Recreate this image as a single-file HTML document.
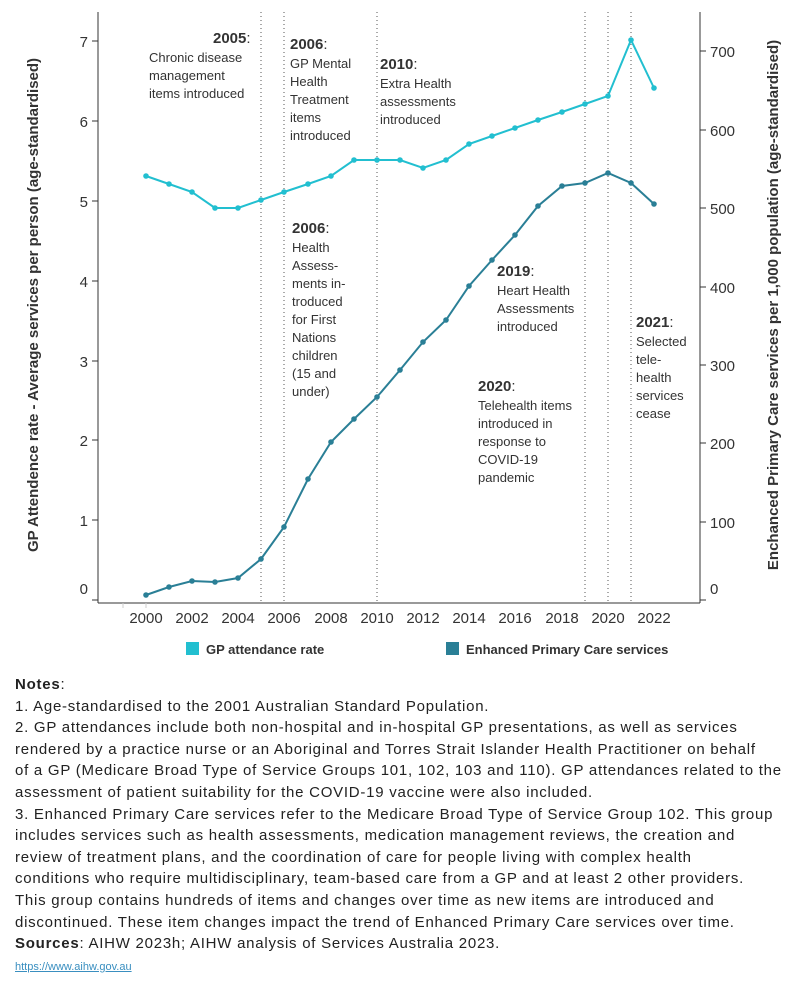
<!DOCTYPE html>
<html><head><meta charset="utf-8"><style>
body{margin:0;background:#fff;font-family:"Liberation Sans",sans-serif;}
.notes{position:absolute;left:15px;top:674px;width:790px;font-size:15px;letter-spacing:0.75px;line-height:21.6px;color:#222;white-space:nowrap;}
</style></head><body>
<div style="position:relative;width:800px;height:1000px;">
<svg width="800" height="670" style="position:absolute;left:0;top:0" font-family="Liberation Sans, sans-serif">
<line x1="98" y1="12" x2="98" y2="603" stroke="#333"/>
<line x1="700" y1="12" x2="700" y2="603" stroke="#333"/>
<line x1="98" y1="603" x2="700" y2="603" stroke="#333"/>
<g stroke="#333">
<line x1="92" y1="41" x2="98" y2="41"/><line x1="92" y1="121" x2="98" y2="121"/><line x1="92" y1="201" x2="98" y2="201"/><line x1="92" y1="281" x2="98" y2="281"/><line x1="92" y1="361" x2="98" y2="361"/><line x1="92" y1="440" x2="98" y2="440"/><line x1="92" y1="520" x2="98" y2="520"/><line x1="92" y1="600" x2="98" y2="600"/>
<line x1="700" y1="51" x2="706" y2="51"/><line x1="700" y1="130" x2="706" y2="130"/><line x1="700" y1="208" x2="706" y2="208"/><line x1="700" y1="287" x2="706" y2="287"/><line x1="700" y1="365" x2="706" y2="365"/><line x1="700" y1="443" x2="706" y2="443"/><line x1="700" y1="522" x2="706" y2="522"/><line x1="700" y1="600" x2="706" y2="600"/>
</g>
<g font-size="15" fill="#333" text-anchor="end">
<text x="88" y="47">7</text><text x="88" y="127">6</text><text x="88" y="207">5</text><text x="88" y="287">4</text><text x="88" y="367">3</text><text x="88" y="446">2</text><text x="88" y="526">1</text><text x="88" y="594">0</text>
</g>
<g font-size="15" fill="#333">
<text x="710" y="57">700</text><text x="710" y="136">600</text><text x="710" y="214">500</text><text x="710" y="293">400</text><text x="710" y="371">300</text><text x="710" y="449">200</text><text x="710" y="528">100</text><text x="710" y="594">0</text>
</g>
<g font-size="15" fill="#333" text-anchor="middle">
<text x="146" y="623">2000</text><text x="192" y="623">2002</text><text x="238" y="623">2004</text><text x="284" y="623">2006</text><text x="331" y="623">2008</text><text x="377" y="623">2010</text><text x="423" y="623">2012</text><text x="469" y="623">2014</text><text x="515" y="623">2016</text><text x="562" y="623">2018</text><text x="608" y="623">2020</text><text x="654" y="623">2022</text>
</g>
<g stroke="#ccc"><line x1="123" y1="603" x2="123" y2="608"/><line x1="146" y1="603" x2="146" y2="608"/></g>
<text transform="translate(38,305) rotate(-90)" font-size="15" font-weight="bold" fill="#333" text-anchor="middle">GP Attendence rate  - Average services per person (age-standardised)</text>
<text transform="translate(778,305) rotate(-90)" font-size="15" font-weight="bold" fill="#333" text-anchor="middle">Enchanced Primary Care services per 1,000 population (age-standardised)</text>
<g stroke="#555" stroke-dasharray="1,3">
<line x1="261" y1="12" x2="261" y2="603"/><line x1="284" y1="12" x2="284" y2="603"/><line x1="377" y1="12" x2="377" y2="603"/><line x1="585" y1="12" x2="585" y2="603"/><line x1="608" y1="12" x2="608" y2="603"/><line x1="631" y1="12" x2="631" y2="603"/>
</g>
<polyline fill="none" stroke="#22bfd0" stroke-width="2" points="146,176 169,184 192,192 215,208 238,208 261,200 284,192 308,184 331,176 354,160 377,160 400,160 423,168 446,160 469,144 492,136 515,128 538,120 562,112 585,104 608,96 631,40 654,88"/>
<g fill="#22bfd0"><circle cx="146" cy="176" r="2.8"/><circle cx="169" cy="184" r="2.8"/><circle cx="192" cy="192" r="2.8"/><circle cx="215" cy="208" r="2.8"/><circle cx="238" cy="208" r="2.8"/><circle cx="261" cy="200" r="2.8"/><circle cx="284" cy="192" r="2.8"/><circle cx="308" cy="184" r="2.8"/><circle cx="331" cy="176" r="2.8"/><circle cx="354" cy="160" r="2.8"/><circle cx="377" cy="160" r="2.8"/><circle cx="400" cy="160" r="2.8"/><circle cx="423" cy="168" r="2.8"/><circle cx="446" cy="160" r="2.8"/><circle cx="469" cy="144" r="2.8"/><circle cx="492" cy="136" r="2.8"/><circle cx="515" cy="128" r="2.8"/><circle cx="538" cy="120" r="2.8"/><circle cx="562" cy="112" r="2.8"/><circle cx="585" cy="104" r="2.8"/><circle cx="608" cy="96" r="2.8"/><circle cx="631" cy="40" r="2.8"/><circle cx="654" cy="88" r="2.8"/></g>
<polyline fill="none" stroke="#2a7f96" stroke-width="2" points="146,595 169,587 192,581 215,582 238,578 261,559 284,527 308,479 331,442 354,419 377,397 400,370 423,342 446,320 469,286 492,260 515,235 538,206 562,186 585,183 608,173 631,183 654,204"/>
<g fill="#2a7f96"><circle cx="146" cy="595" r="2.8"/><circle cx="169" cy="587" r="2.8"/><circle cx="192" cy="581" r="2.8"/><circle cx="215" cy="582" r="2.8"/><circle cx="238" cy="578" r="2.8"/><circle cx="261" cy="559" r="2.8"/><circle cx="284" cy="527" r="2.8"/><circle cx="308" cy="479" r="2.8"/><circle cx="331" cy="442" r="2.8"/><circle cx="354" cy="419" r="2.8"/><circle cx="377" cy="397" r="2.8"/><circle cx="400" cy="370" r="2.8"/><circle cx="423" cy="342" r="2.8"/><circle cx="446" cy="320" r="2.8"/><circle cx="469" cy="286" r="2.8"/><circle cx="492" cy="260" r="2.8"/><circle cx="515" cy="235" r="2.8"/><circle cx="538" cy="206" r="2.8"/><circle cx="562" cy="186" r="2.8"/><circle cx="585" cy="183" r="2.8"/><circle cx="608" cy="173" r="2.8"/><circle cx="631" cy="183" r="2.8"/><circle cx="654" cy="204" r="2.8"/></g>
<g font-size="13" fill="#333">
<text x="213" y="43" font-size="15" font-weight="bold">2005<tspan font-weight="normal">:</tspan></text>
<text x="149" y="62">Chronic disease</text><text x="149" y="80">management</text><text x="149" y="98">items introduced</text>
<text x="290" y="49" font-size="15" font-weight="bold">2006<tspan font-weight="normal">:</tspan></text>
<text x="290" y="68">GP Mental</text><text x="290" y="86">Health</text><text x="290" y="104">Treatment</text><text x="290" y="122">items</text><text x="290" y="140">introduced</text>
<text x="380" y="69" font-size="15" font-weight="bold">2010<tspan font-weight="normal">:</tspan></text>
<text x="380" y="88">Extra Health</text><text x="380" y="106">assessments</text><text x="380" y="124">introduced</text>
<text x="292" y="233" font-size="15" font-weight="bold">2006<tspan font-weight="normal">:</tspan></text>
<text x="292" y="252">Health</text><text x="292" y="270">Assess-</text><text x="292" y="288">ments in-</text><text x="292" y="306">troduced</text><text x="292" y="324">for First</text><text x="292" y="342">Nations</text><text x="292" y="360">children</text><text x="292" y="378">(15 and</text><text x="292" y="396">under)</text>
<text x="497" y="276" font-size="15" font-weight="bold">2019<tspan font-weight="normal">:</tspan></text>
<text x="497" y="295">Heart Health</text><text x="497" y="313">Assessments</text><text x="497" y="331">introduced</text>
<text x="636" y="327" font-size="15" font-weight="bold">2021<tspan font-weight="normal">:</tspan></text>
<text x="636" y="346">Selected</text><text x="636" y="364">tele-</text><text x="636" y="382">health</text><text x="636" y="400">services</text><text x="636" y="418">cease</text>
<text x="478" y="391" font-size="15" font-weight="bold">2020<tspan font-weight="normal">:</tspan></text>
<text x="478" y="410">Telehealth items</text><text x="478" y="428">introduced in</text><text x="478" y="446">response to</text><text x="478" y="464">COVID-19</text><text x="478" y="482">pandemic</text>
</g>
<rect x="186" y="642" width="13" height="13" fill="#22bfd0"/>
<text x="206" y="654" font-size="13" font-weight="bold" fill="#333">GP attendance rate</text>
<rect x="446" y="642" width="13" height="13" fill="#2a7f96"/>
<text x="466" y="654" font-size="13" font-weight="bold" fill="#333">Enhanced Primary Care services</text>
</svg>
<div class="notes">
<b>Notes</b>:<br>
1. Age-standardised to the 2001 Australian Standard Population.<br>
2. GP attendances include both non-hospital and in-hospital GP presentations, as well as services<br>
rendered by a practice nurse or an Aboriginal and Torres Strait Islander Health Practitioner on behalf<br>
of a GP (Medicare Broad Type of Service Groups 101, 102, 103 and 110). GP attendances related to the<br>
assessment of patient suitability for the COVID-19 vaccine were also included.<br>
3. Enhanced Primary Care services refer to the Medicare Broad Type of Service Group 102. This group<br>
includes services such as health assessments, medication management reviews, the creation and<br>
review of treatment plans, and the coordination of care for people living with complex health<br>
conditions who require multidisciplinary, team-based care from a GP and at least 2 other providers.<br>
This group contains hundreds of items and changes over time as new items are introduced and<br>
discontinued. These item changes impact the trend of Enhanced Primary Care services over time.<br>
<b>Sources</b>: AIHW 2023h; AIHW analysis of Services Australia 2023.<br>
<span style="font-size:11px;letter-spacing:0;color:#3a8fc0;text-decoration:underline;line-height:14px">https://www.aihw.gov.au</span>
</div>
</div>
</body></html>
